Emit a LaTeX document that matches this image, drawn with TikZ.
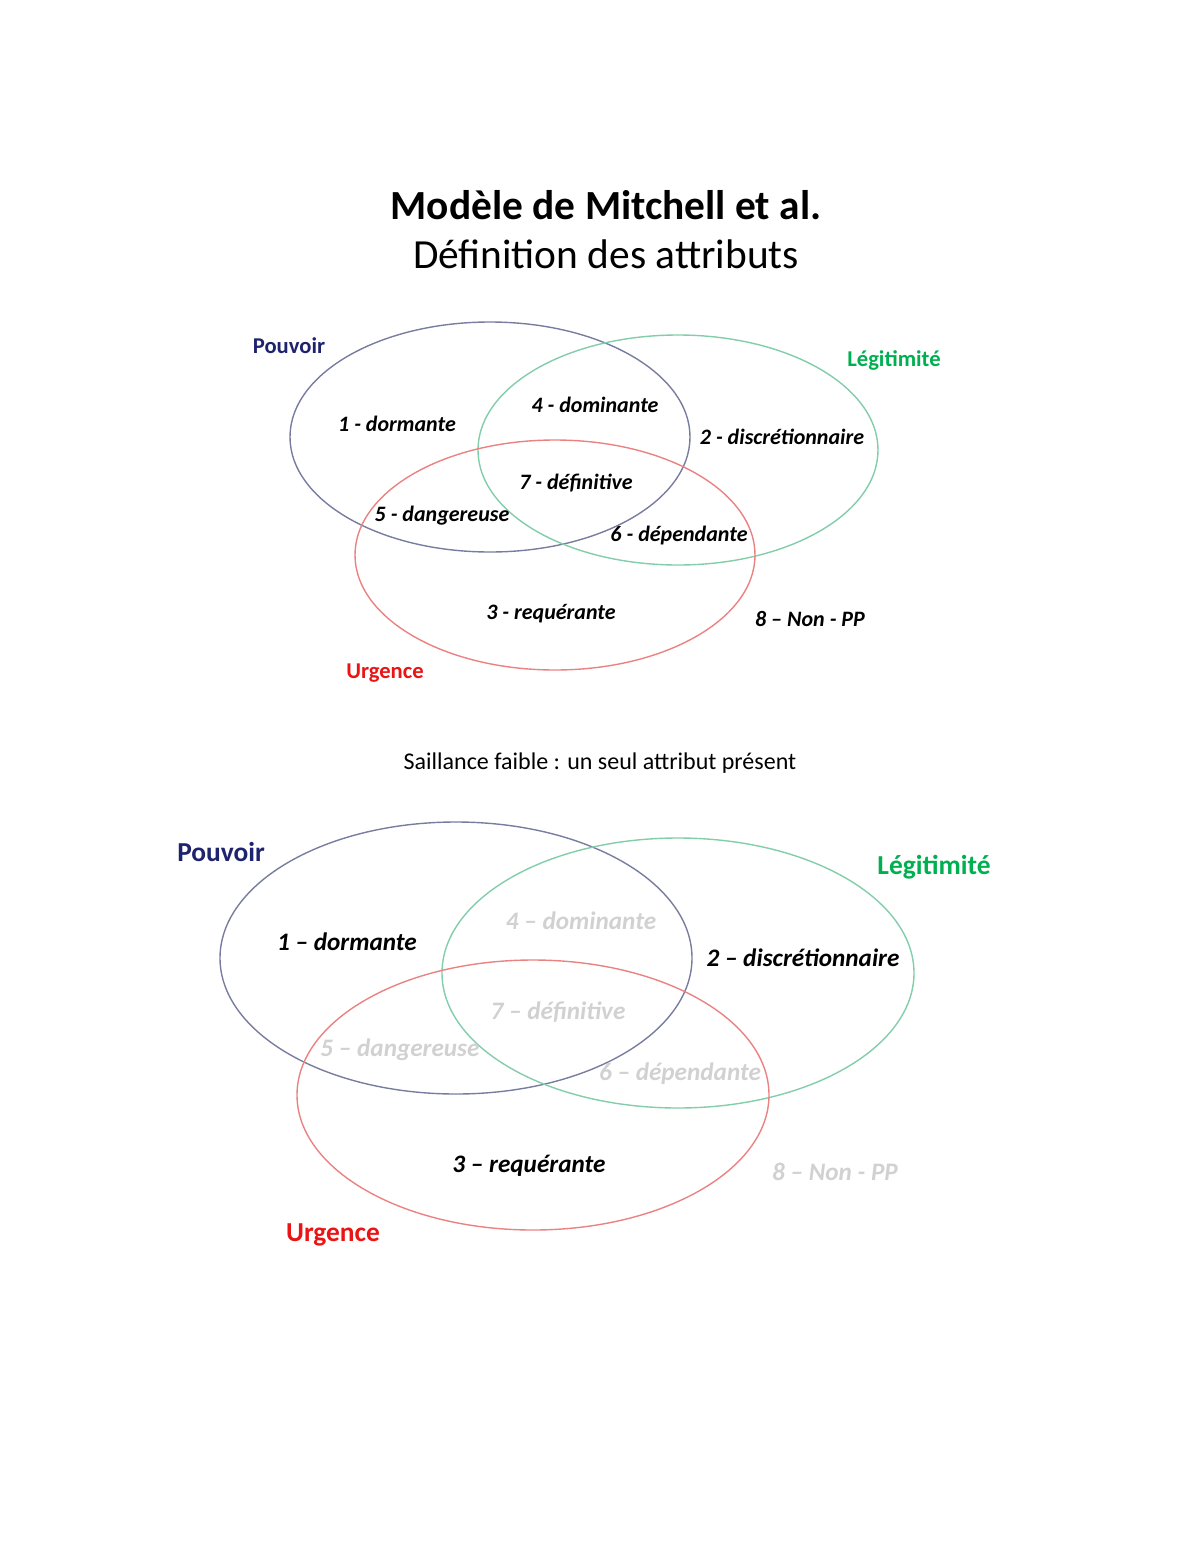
\documentclass[tikz,border=0pt]{standalone}
\usepackage{fontspec}
\setmainfont{Carlito}
\begin{document}
\begin{tikzpicture}[x=0.5pt,y=-0.5pt,
 lab/.style={font=\fontsize{11}{13}\selectfont\bfseries\itshape},
 labb/.style={font=\fontsize{12.6}{14}\selectfont\bfseries\itshape},
 dim/.style={text=black!18},
 set/.style={font=\fontsize{11.3}{13}\selectfont\bfseries},
 setb/.style={font=\fontsize{13.7}{15}\selectfont\bfseries}]
\definecolor{pblue}{RGB}{30,35,110}
\definecolor{lgreen}{RGB}{0,176,80}
\definecolor{ured}{RGB}{235,20,20}
\definecolor{pline}{RGB}{120,125,160}
\definecolor{gline}{RGB}{130,205,170}
\definecolor{rline}{RGB}{235,130,130}
\useasboundingbox (0,0) rectangle (1200,1553);
\node (t1) at (606,205) {\fontsize{20.7}{24}\selectfont\bfseries Modèle de Mitchell et al.};
\node (t2) at (606,254) {\fontsize{20.7}{24}\selectfont Définition des attributs};
% top
\draw[pline,line width=0.7] (490,437) ellipse [x radius=200,y radius=115];
\draw[gline,line width=0.7] (678,450) ellipse [x radius=200,y radius=115];
\draw[rline,line width=0.7] (555,555) ellipse [x radius=200,y radius=115];
\node[set,text=pblue] (p1) at (289,346) {Pouvoir};
\node[set,text=lgreen] (l1) at (894,360) {Légitimité};
\node[set,text=ured] (u1) at (385,673) {Urgence};
\node[lab] (a1) at (397,424) {1 - dormante};
\node[lab] (a4) at (595,405) {4 - dominante};
\node[lab] (a2) at (782,437) {2 - discrétionnaire};
\node[lab] (a7) at (576,483) {7 - définitive};
\node[lab] (a5) at (442,516) {5 - dangereuse};
\node[lab] (a6) at (679,536) {6 - dépendante};
\node[lab] (a3) at (551,614) {3 - requérante};
\node[lab] (a8) at (810,619) {8 -- Non - PP};
\node (s) at (600,763) {\fontsize{12}{14}\selectfont Saillance faible : un seul attribut présent};
% bottom
\draw[pline,line width=0.7] (456,958) ellipse [x radius=236,y radius=136];
\draw[gline,line width=0.7] (678,973) ellipse [x radius=236,y radius=135];
\draw[rline,line width=0.7] (533,1095) ellipse [x radius=236,y radius=135];
\node[setb,text=pblue] (p2) at (221,852) {Pouvoir};
\node[setb,text=lgreen] (l2) at (934,867) {Légitimité};
\node[setb,text=ured] (u2) at (333,1235) {Urgence};
\node[labb] (b1) at (347,942) {1 -- dormante};
\node[labb,dim] (b4) at (581,921) {4 -- dominante};
\node[labb] (b2) at (803,958) {2 -- discrétionnaire};
\node[labb,dim] (b7) at (558,1012) {7 -- définitive};
\node[labb,dim] (b5) at (400,1050) {5 -- dangereuse};
\node[labb,dim] (b6) at (680,1074) {6 -- dépendante};
\node[labb] (b3) at (529,1166) {3 -- requérante};
\node[labb,dim] (b8) at (835,1172) {8 -- Non - PP};
\end{tikzpicture}
\end{document}
